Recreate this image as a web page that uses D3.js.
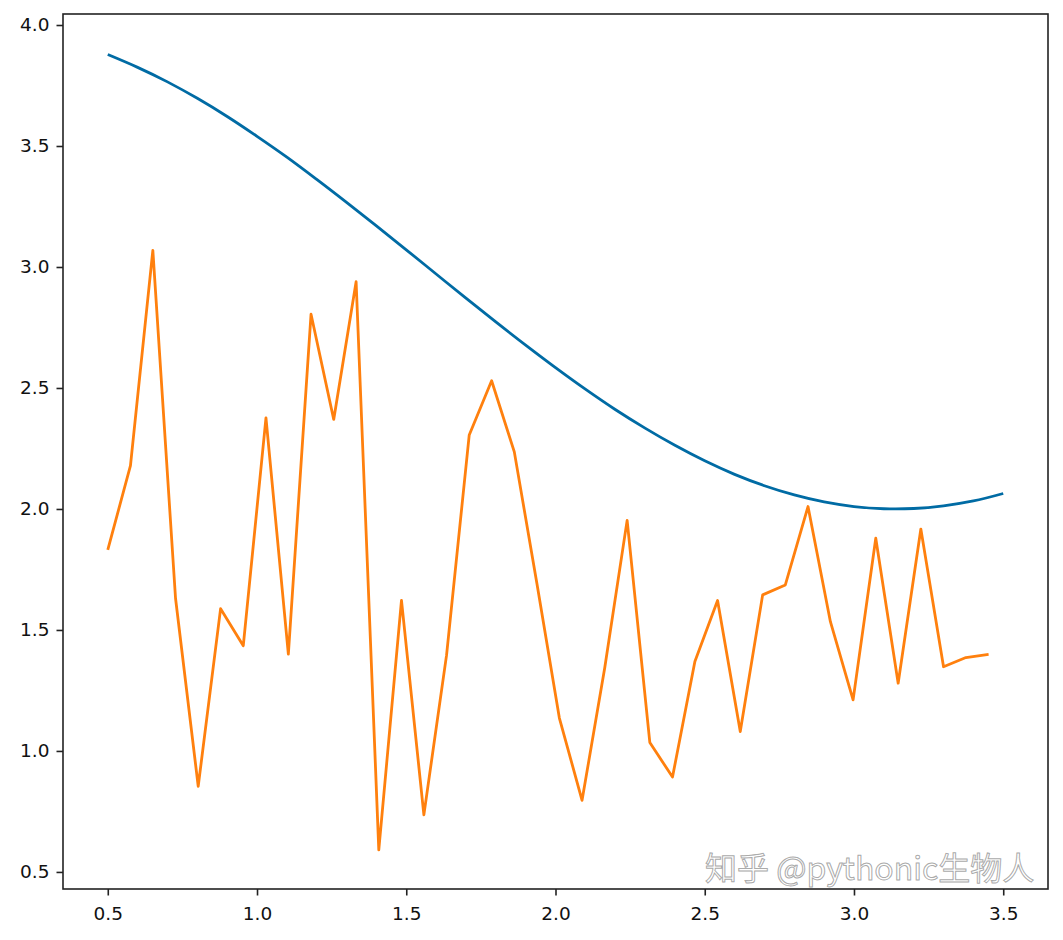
<!DOCTYPE html>
<html>
<head>
<meta charset="utf-8">
<script src="https://cdn.jsdelivr.net/npm/d3@7"></script>
<style>
  html, body { margin: 0; padding: 0; background: #fff; }
  svg { display: block; }
</style>
</head>
<body>
<svg id="chart" width="1063" height="940"></svg>
<script>
// ---- data ----
const smoothX = [0.5,0.6,0.7,0.8,0.9,1.0,1.1,1.2,1.3,1.4,1.5,1.6,1.7,1.8,1.9,2.0,2.1,2.2,2.3,2.4,2.5,2.6,2.7,2.8,2.9,3.0,3.1,3.2,3.3,3.4,3.5];
const smoothY = [3.878,3.825,3.765,3.697,3.622,3.540,3.454,3.362,3.267,3.170,3.071,2.971,2.871,2.773,2.677,2.584,2.495,2.411,2.334,2.263,2.199,2.143,2.096,2.058,2.029,2.010,2.001,2.002,2.013,2.033,2.064];

const noisyX = [0.500,0.576,0.651,0.727,0.803,0.878,0.954,1.030,1.105,1.181,1.257,1.332,1.408,1.484,1.559,1.635,1.711,1.786,1.862,1.938,2.013,2.089,2.165,2.240,2.316,2.392,2.467,2.543,2.619,2.694,2.770,2.846,2.921,2.997,3.073,3.148,3.224,3.300,3.375,3.451];
const noisyY = [1.831,2.179,3.069,1.631,0.854,1.588,1.435,2.376,1.400,2.805,2.370,2.939,0.591,1.622,0.736,1.396,2.306,2.530,2.236,1.690,1.136,0.796,1.344,1.953,1.035,0.892,1.370,1.622,1.080,1.645,1.686,2.010,1.534,1.211,1.879,1.280,1.917,1.348,1.386,1.399];

const xTicks = [0.5,1.0,1.5,2.0,2.5,3.0,3.5];
const yTicks = [0.5,1.0,1.5,2.0,2.5,3.0,3.5,4.0];
const watermark = "知乎 @pythonic生物人";

// ---- layout ----
const svg = d3.select("#chart");
const L = 63, R = 1048, T = 14, B = 889;
const x = d3.scaleLinear().domain([0.35, 3.65]).range([L, R]);
const y = d3.scaleLinear().domain([0.4295, 4.0455]).range([B, T]);

const fontFam = "'DejaVu Sans', sans-serif";

// lines
const blueLine = d3.line().x((d,i)=>x(smoothX[i])).y(d=>y(d)).curve(d3.curveCatmullRom);
const orangeLine = d3.line().x((d,i)=>x(noisyX[i])).y(d=>y(d));

const plot = svg.append("g");
plot.append("path").attr("d", blueLine(smoothY))
  .attr("fill","none").attr("stroke","#006BA4").attr("stroke-width",2.8)
  .attr("stroke-linejoin","round").attr("stroke-linecap","butt");
plot.append("path").attr("d", orangeLine(noisyY))
  .attr("fill","none").attr("stroke","#FF800E").attr("stroke-width",2.8)
  .attr("stroke-linejoin","round").attr("stroke-linecap","butt");

// axes
const xAxis = d3.axisBottom(x).tickValues(xTicks).tickFormat(d3.format(".1f")).tickSize(6.5).tickPadding(7);
const yAxis = d3.axisLeft(y).tickValues(yTicks).tickFormat(d3.format(".1f")).tickSize(6.5).tickPadding(7);

const gx = svg.append("g").attr("transform",`translate(0,${B})`).call(xAxis);
const gy = svg.append("g").attr("transform",`translate(${L},0)`).call(yAxis);
[gx, gy].forEach(g => {
  g.select(".domain").remove();
  g.selectAll(".tick line").attr("stroke","#222").attr("stroke-width",1.6);
  g.selectAll(".tick text").attr("fill","#111").style("font-family",fontFam).style("font-size","18.5px");
});
gx.selectAll(".tick text").attr("dy","0.95em");

// spines
svg.append("rect").attr("x",L).attr("y",T).attr("width",R-L).attr("height",B-T)
  .attr("fill","none").attr("stroke","#222").attr("stroke-width",1.6);

// watermark
svg.append("text").attr("x",705).attr("y",880)
  .text(watermark)
  .style("font-family","'Noto Sans CJK SC','Noto Sans',sans-serif")
  .style("font-size","32px")
  .attr("fill","#ffffff").attr("fill-opacity",0.85)
  .attr("stroke","#a0a0a0").attr("stroke-width",1).attr("stroke-opacity",0.9);
</script>
</body>
</html>
